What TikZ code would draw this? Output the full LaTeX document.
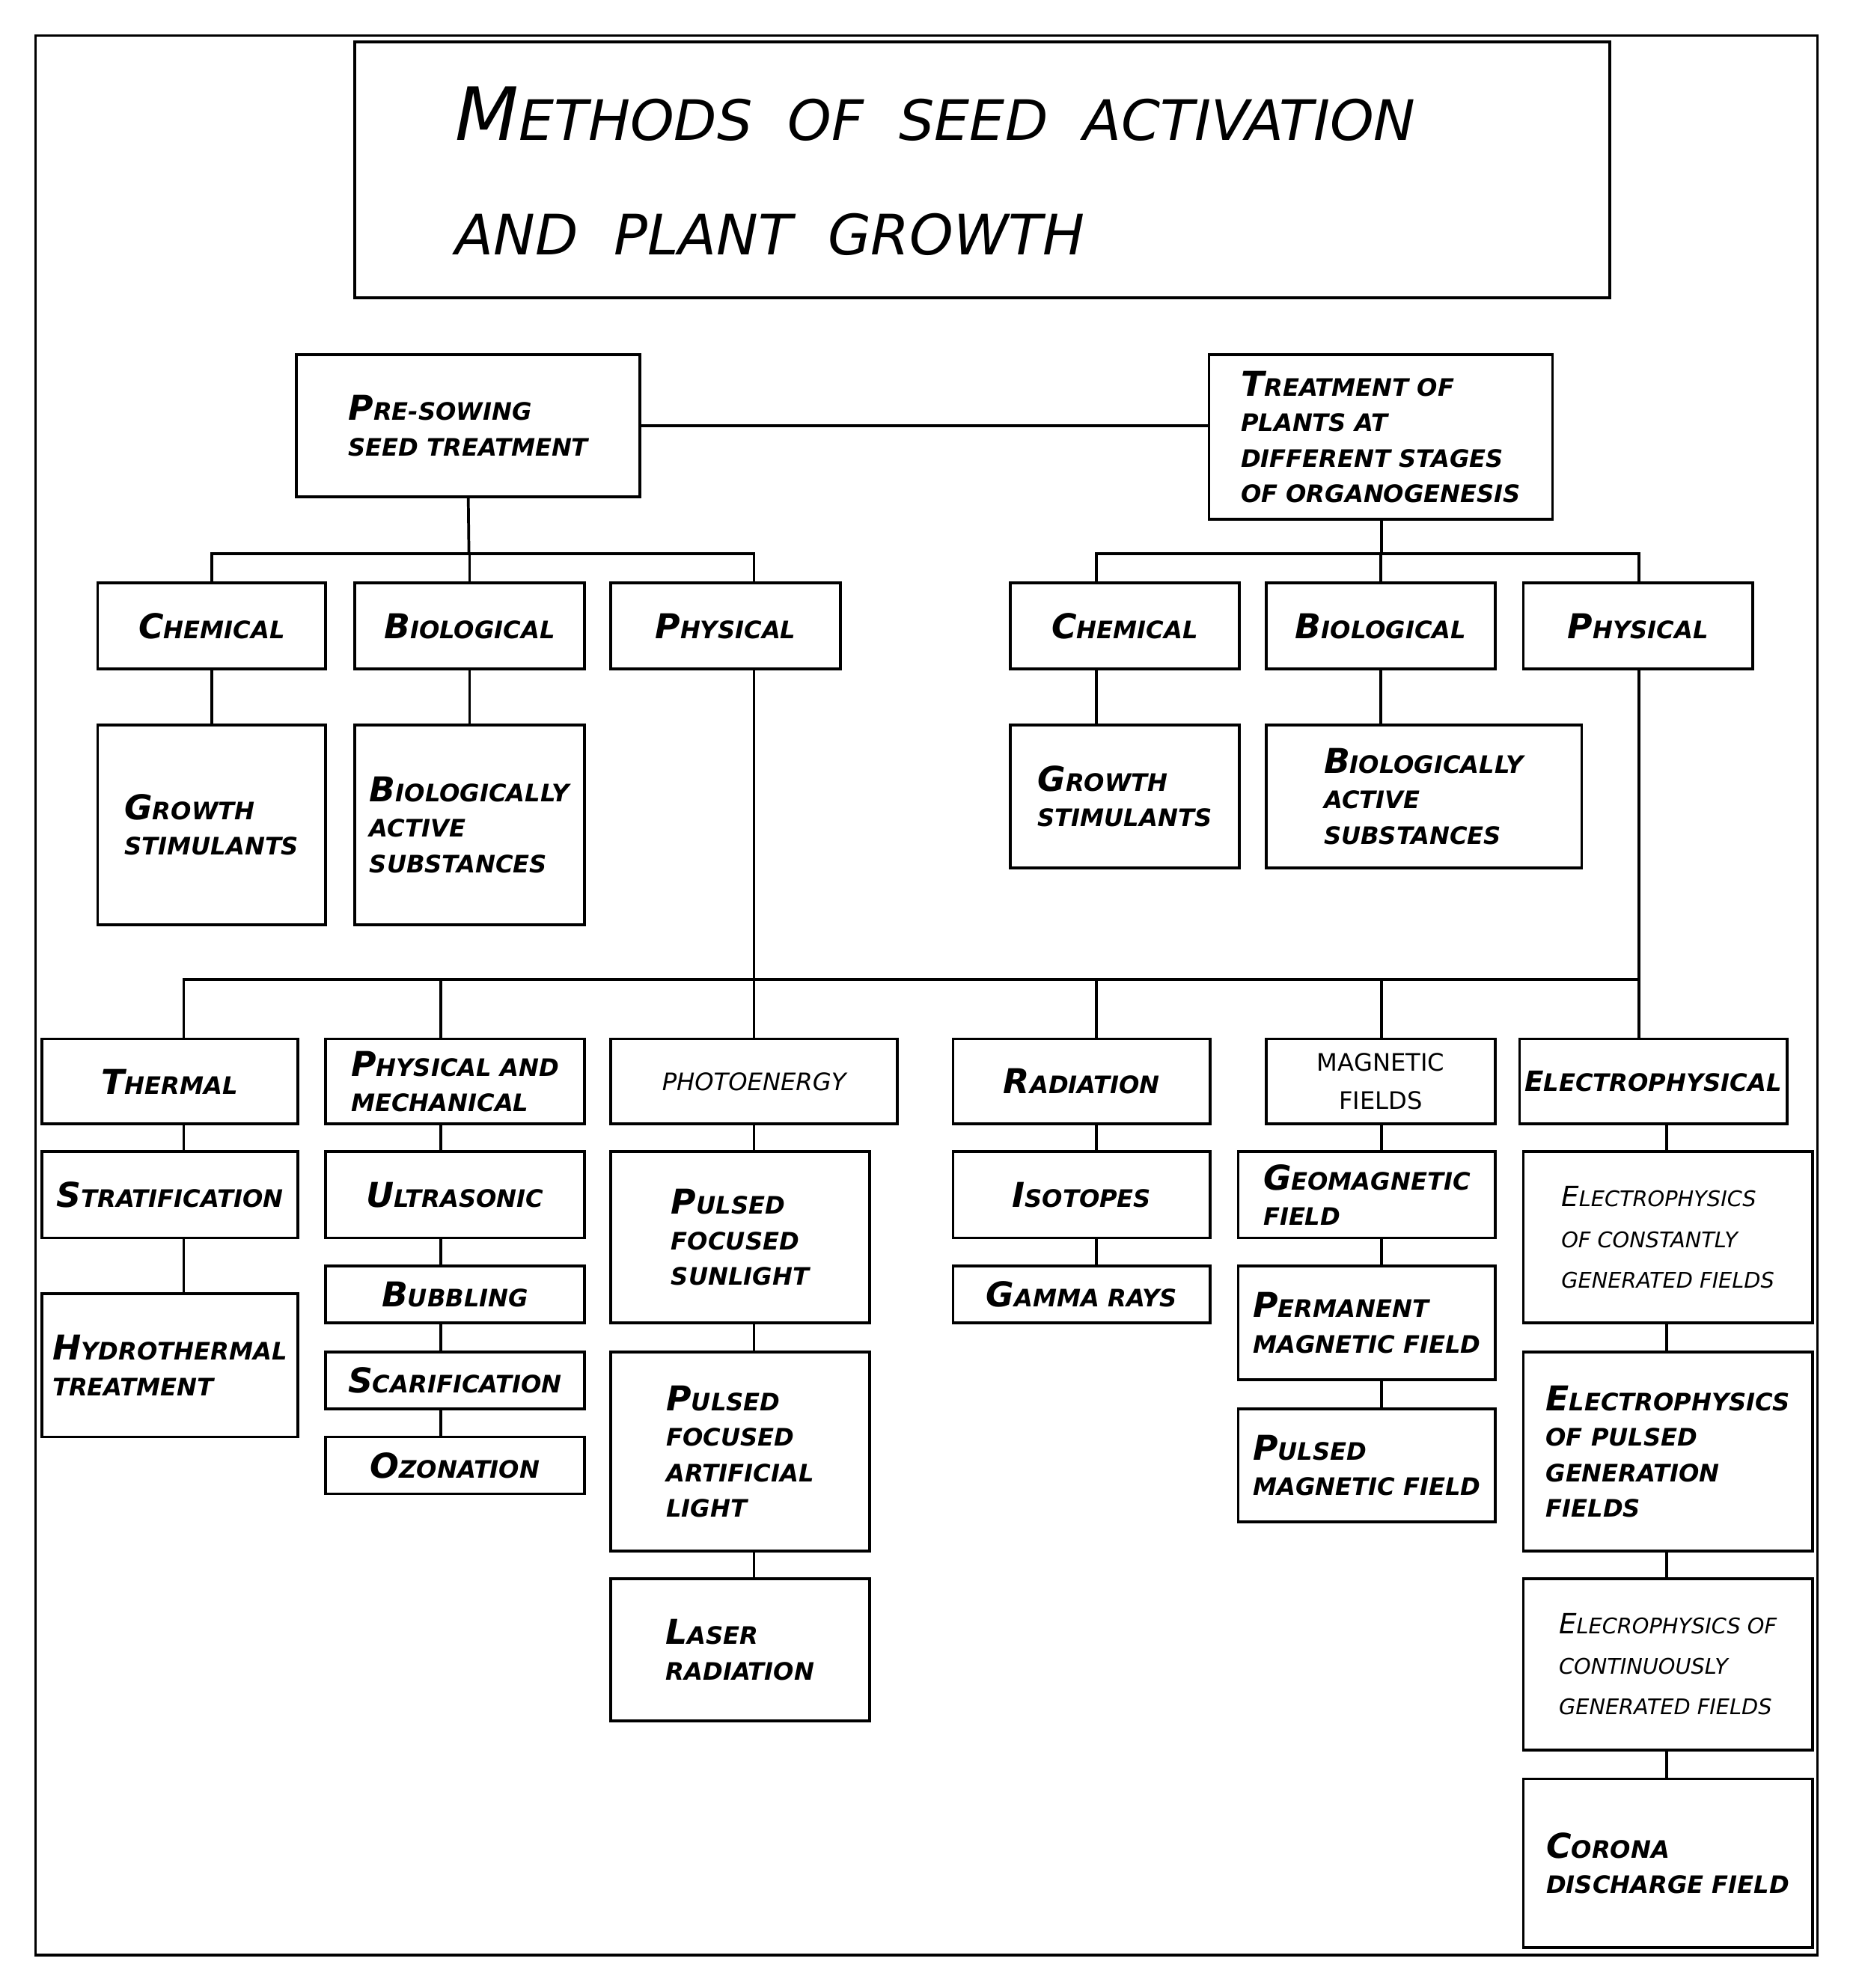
\documentclass[tikz,border=0pt]{standalone}
\usepackage{fontspec}
\setmainfont{DejaVu Sans}
\newcommand\F[2]{{\fontsize{27}{28}\selectfont #1}#2}
\newcommand\B[6]{\pgfmathsetmacro\ww{#4-#2}\pgfmathsetmacro\hh{#5-#3}%
 \node[box,minimum width=\ww pt,minimum height=\hh pt] (#1) at ({(#2+#4)/2},{(#3+#5)/2}) {#6};}
\begin{document}
\begin{tikzpicture}[x=1pt,y=-1pt,line width=2.2pt,
 box/.style={draw,align=left,inner sep=4pt,font=\fontsize{19}{28}\selectfont\bfseries\itshape},
 thin/.style={font=\fontsize{19}{30}\selectfont\itshape}]
\useasboundingbox (0,0) rectangle (1462,1569);
\draw (28,28) rectangle (1434,1543);
\B{title}{280}{33}{1270}{235}{}
\node[anchor=west,align=left,font=\fontsize{44}{90}\selectfont\itshape] at (355,135)
 {{\fontsize{58}{60}\selectfont M}ETHODS\ \ OF\ \ SEED\ \ ACTIVATION\\AND\ \ PLANT\ \ GROWTH};
\B{pre}{234}{280}{505}{392}{\F{P}{RE-SOWING}\\SEED TREATMENT}
\B{treat}{954}{280}{1225}{410}{\F{T}{REATMENT OF}\\PLANTS AT\\DIFFERENT STAGES\\OF ORGANOGENESIS}
\draw (pre.east) -- (pre.east -| treat.west);
% left
\B{chemL}{77}{460}{257}{528}{\F{C}{HEMICAL}}
\B{bioL}{280}{460}{461}{528}{\F{B}{IOLOGICAL}}
\B{physL}{482}{460}{663}{528}{\F{P}{HYSICAL}}
\B{gsL}{77}{572}{257}{730}{\F{G}{ROWTH}\\STIMULANTS}
\B{basL}{280}{572}{461}{730}{\F{B}{IOLOGICALLY}\\ACTIVE\\SUBSTANCES}
\coordinate (jl) at (370,437);
\draw (pre.south) -- (jl);
\draw (chemL.north) |- (595,437) -- (595,460);
\draw (bioL.north) -- (bioL.north |- jl);
\draw (chemL.south) -- (gsL.north);
\draw (bioL.south) -- (basL.north);
% right
\B{chemR}{797}{460}{978}{528}{\F{C}{HEMICAL}}
\B{bioR}{999}{460}{1180}{528}{\F{B}{IOLOGICAL}}
\B{physR}{1202}{460}{1383}{528}{\F{P}{HYSICAL}}
\B{gsR}{797}{572}{978}{685}{\F{G}{ROWTH}\\STIMULANTS}
\B{basR}{999}{572}{1248}{685}{\F{B}{IOLOGICALLY}\\ACTIVE\\SUBSTANCES}
\coordinate (jr) at (1090,437);
\draw (1090,410) -- (jr);
\draw (865,460) |- (1293,437) -- (1293,460);
\draw (bioR.north) -- (bioR.north |- jr);
\draw (865,528) -- (865,572);
\draw (bioR.south) -- (bioR.south |- basR.north);
% physical bus
\draw (595,528) -- (595,773);
\draw (1293,528) -- (1293,773);
\draw (145,820) |- (1293,773);
\foreach \x in {348,595,865,1090,1293} \draw (\x,773) -- (\x,820);
% row
\B{therm}{33}{820}{235}{887}{\F{T}{HERMAL}}
\B{pm}{257}{820}{461}{887}{\F{P}{HYSICAL AND}\\MECHANICAL}
\node[box,thin,minimum width=226pt,minimum height=67pt] (photo) at (595,853.5) {PHOTOENERGY};
\B{rad}{752}{820}{955}{887}{\F{R}{ADIATION}}
\node[box,thin,align=center,minimum width=181pt,minimum height=67pt,font=\fontsize{19}{30}\selectfont] (mag) at (1089.5,853.5) {MAGNETIC\\FIELDS};
\B{elec}{1202}{820}{1407}{887}{{\fontsize{22}{24}\selectfont E}LECTROPHYSICAL}
% thermal
\B{strat}{33}{909}{235}{977}{\F{S}{TRATIFICATION}}
\B{hydro}{33}{1021}{235}{1134}{\F{H}{YDROTHERMAL}\\TREATMENT}
\draw (145,887) -- (145,909); \draw (145,977) -- (145,1021);
% phys mech
\B{ultra}{257}{909}{461}{977}{\F{U}{LTRASONIC}}
\B{bubb}{257}{999}{461}{1044}{\F{B}{UBBLING}}
\B{scar}{257}{1067}{461}{1112}{\F{S}{CARIFICATION}}
\B{ozon}{257}{1134}{461}{1179}{\F{O}{ZONATION}}
\draw (348,887) -- (348,909); \draw (348,977) -- (348,999);
\draw (348,1044) -- (348,1067); \draw (348,1112) -- (348,1134);
% photo
\B{pfs}{482}{909}{686}{1044}{\F{P}{ULSED}\\FOCUSED\\SUNLIGHT}
\B{pfa}{482}{1067}{686}{1224}{\F{P}{ULSED}\\FOCUSED\\ARTIFICIAL\\LIGHT}
\B{laser}{482}{1246}{686}{1358}{\F{L}{ASER}\\RADIATION}
\draw (595,887) -- (595,909); \draw (595,1044) -- (595,1067); \draw (595,1224) -- (595,1246);
% radiation
\B{iso}{752}{909}{955}{977}{\F{I}{SOTOPES}}
\B{gam}{752}{999}{955}{1044}{\F{G}{AMMA RAYS}}
\draw (865,887) -- (865,909); \draw (865,977) -- (865,999);
% magnetic
\B{geo}{977}{909}{1180}{977}{\F{G}{EOMAGNETIC}\\FIELD}
\B{perm}{977}{999}{1180}{1089}{\F{P}{ERMANENT}\\MAGNETIC FIELD}
\B{pmf}{977}{1112}{1180}{1201}{\F{P}{ULSED}\\MAGNETIC FIELD}
\draw (1090,887) -- (1090,909); \draw (1090,977) -- (1090,999); \draw (1090,1089) -- (1090,1112);
% electro
\node[box,font=\fontsize{17}{32}\selectfont\itshape,minimum width=228pt,minimum height=135pt] (e1) at (1316,976.5) {{\fontsize{22}{24}\selectfont E}LECTROPHYSICS\\OF CONSTANTLY\\GENERATED FIELDS};
\B{e2}{1202}{1067}{1430}{1224}{\F{E}{LECTROPHYSICS}\\OF PULSED\\GENERATION\\FIELDS}
\node[box,font=\fontsize{17}{32}\selectfont\itshape,minimum width=228pt,minimum height=135pt] (e3) at (1316,1313.5) {{\fontsize{22}{24}\selectfont E}LECROPHYSICS OF\\CONTINUOUSLY\\GENERATED FIELDS};
\B{e4}{1202}{1404}{1430}{1537}{\F{C}{ORONA}\\DISCHARGE FIELD}
\draw (1315,887) -- (1315,909); \draw (1315,1044) -- (1315,1067);
\draw (1315,1224) -- (1315,1246); \draw (1315,1381) -- (1315,1404);
\end{tikzpicture}
\end{document}
